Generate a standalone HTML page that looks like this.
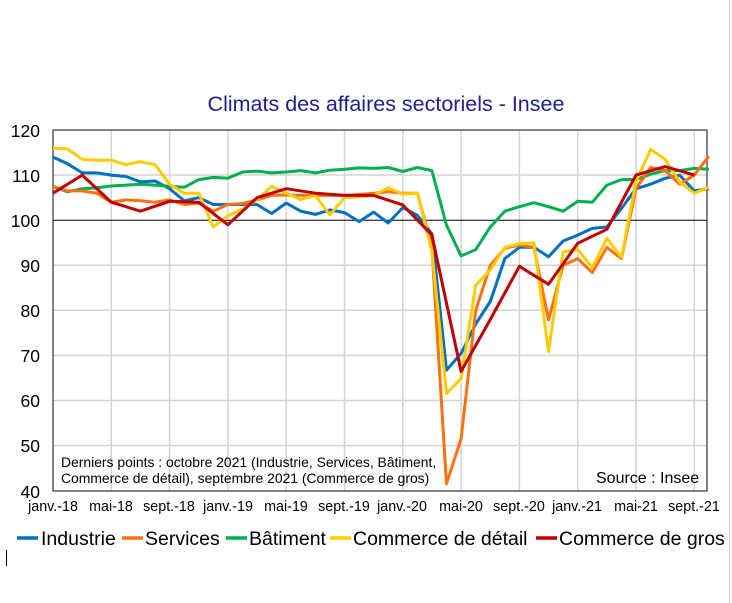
<!DOCTYPE html>
<html><head><meta charset="utf-8"><style>
html,body{margin:0;padding:0;background:#fff;}
svg{display:block;font-family:"Liberation Sans",Arial,sans-serif;}
</style></head><body>
<svg width="732" height="603" viewBox="0 0 732 603" xmlns="http://www.w3.org/2000/svg">
<rect width="732" height="603" fill="#fff"/>
<line x1="729.5" y1="0" x2="729.5" y2="603" stroke="#d0d0d0" stroke-width="1"/>
<text x="386" y="111" font-size="21.5" fill="#1f1f8f" text-anchor="middle">Climats des affaires sectoriels - Insee</text>
<g stroke="#d4d4d4" stroke-width="1.5">
<line x1="53" y1="175" x2="707" y2="175"/><line x1="53" y1="265.2" x2="707" y2="265.2"/>
<line x1="53" y1="310.3" x2="707" y2="310.3"/><line x1="53" y1="355.4" x2="707" y2="355.4"/>
<line x1="53" y1="400.5" x2="707" y2="400.5"/><line x1="53" y1="445.6" x2="707" y2="445.6"/>
<line x1="111.3" y1="130" x2="111.3" y2="491"/><line x1="169.6" y1="130" x2="169.6" y2="491"/>
<line x1="227.9" y1="130" x2="227.9" y2="491"/><line x1="286.2" y1="130" x2="286.2" y2="491"/>
<line x1="344.5" y1="130" x2="344.5" y2="491"/><line x1="402.8" y1="130" x2="402.8" y2="491"/>
<line x1="461.1" y1="130" x2="461.1" y2="491"/><line x1="519.4" y1="130" x2="519.4" y2="491"/>
<line x1="577.7" y1="130" x2="577.7" y2="491"/><line x1="636" y1="130" x2="636" y2="491"/>
<line x1="694.3" y1="130" x2="694.3" y2="491"/>
</g>
<line x1="53" y1="220.2" x2="707" y2="220.2" stroke="#000" stroke-width="1"/>
<rect x="53" y="130" width="654" height="361" fill="none" stroke="#333" stroke-width="1.2"/>
<g font-size="17.5" fill="#000" text-anchor="end">
<text x="40" y="137">120</text><text x="40" y="182">110</text><text x="40" y="227">100</text>
<text x="40" y="272">90</text><text x="40" y="317">80</text><text x="40" y="362">70</text>
<text x="40" y="407">60</text><text x="40" y="452">50</text><text x="40" y="498">40</text>
</g>
<g font-size="14.3" fill="#000" text-anchor="middle">
<text x="53" y="511">janv.-18</text><text x="111" y="511">mai-18</text><text x="169" y="511">sept.-18</text>
<text x="228" y="511">janv.-19</text><text x="286" y="511">mai-19</text><text x="344" y="511">sept.-19</text>
<text x="402" y="511">janv.-20</text><text x="461" y="511">mai-20</text><text x="519" y="511">sept.-20</text>
<text x="577" y="511">janv.-21</text><text x="636" y="511">mai-21</text><text x="694" y="511">sept.-21</text>
</g>
<g font-size="13.9" fill="#000">
<text x="61" y="467">Derniers points : octobre 2021 (Industrie, Services, Bâtiment,</text>
<text x="61" y="483">Commerce de détail), septembre 2021 (Commerce de gros)</text>
<text x="596" y="483" font-size="16">Source : Insee</text>
</g>
<g fill="none" stroke-width="3" stroke-linejoin="round">
<polyline id="ind" stroke="#0070c0" points=""/>
<polyline id="bat" stroke="#00b050" points=""/>
<polyline id="ser" stroke="#ff7010" points=""/>
<polyline id="det" stroke="#ffcc00" points=""/>
<polyline id="gro" stroke="#c00000" points=""/>
</g>
<g font-size="19.5" fill="#000">
<line x1="17" y1="538" x2="38" y2="538" stroke="#0070c0" stroke-width="3.5"/><text x="41" y="545">Industrie</text>
<line x1="122" y1="538" x2="143" y2="538" stroke="#ff7010" stroke-width="3.5"/><text x="145" y="545">Services</text>
<line x1="226" y1="538" x2="247" y2="538" stroke="#00b050" stroke-width="3.5"/><text x="249" y="545">Bâtiment</text>
<line x1="330" y1="538" x2="351" y2="538" stroke="#ffcc00" stroke-width="3.5"/><text x="353" y="545">Commerce de détail</text>
<line x1="536" y1="538" x2="557" y2="538" stroke="#c00000" stroke-width="3.5"/><text x="559" y="545">Commerce de gros</text>
</g>
<line x1="6.5" y1="550" x2="6.5" y2="566" stroke="#000" stroke-width="1"/>
</svg>
<script>
function pts(vals,step){var s=[];for(var i=0;i<vals.length;i++){var x=53+i*step*14.575,y=130+(120-vals[i])*4.5125;s.push(x.toFixed(1)+","+y.toFixed(1));}return s.join(" ");}
var ind=[114,112.5,110.5,110.5,110,109.7,108.5,108.7,107,104.3,105,103.5,103.5,103.5,103.5,101.5,103.8,102,101.3,102.3,101.7,99.7,101.8,99.4,102.8,101.1,97,66.8,70.5,77,82,91.5,94,94,91.9,95.4,96.7,98.2,98.5,102.6,107,108,109.3,110,106.5,107];
var ser=[107.5,106.5,106.5,106,104,104.5,104.3,104,104.5,103.5,103.8,102,103.5,103.7,104.5,105.5,105.6,105.5,105.5,105.5,105.5,105.7,106,106.3,106,106,94,41.6,51.6,80,90,93.8,94.5,94,77.9,90,91.5,88.4,94,91.5,107,111.7,111,108,110,114.2];
var bat=[107.5,106.3,107,107.2,107.6,107.8,108,107.8,107.5,107.3,109,109.5,109.3,110.7,110.9,110.5,110.7,111,110.5,111.1,111.3,111.6,111.5,111.7,110.8,111.7,111,98.9,92.1,93.5,98.5,102,103,103.9,103,102,104.2,104,107.8,109,109,110.2,111,111,111.5,111.3];
var det=[116,115.8,113.5,113.3,113.3,112.3,113,112.3,108,106,106,98.5,101,102.5,104.5,107.5,106,104.6,105.5,101.2,105,105.2,105.5,107.2,105.8,106,93,61.6,64.9,85.6,89,94,94.8,95,70.9,93,93.5,89.5,96,91.8,108.5,115.7,113.5,108.5,106,107.3];
var gro=[106,110,104,102,104.2,104,99,105,107,106,105.5,105.5,103.4,96.7,66.5,78,89.8,85.8,94.9,98,110,111.9,110];
document.getElementById("ind").setAttribute("points",pts(ind,1));
document.getElementById("ser").setAttribute("points",pts(ser,1));
document.getElementById("bat").setAttribute("points",pts(bat,1));
document.getElementById("det").setAttribute("points",pts(det,1));
document.getElementById("gro").setAttribute("points",pts(gro,2));
</script>
</body></html>
